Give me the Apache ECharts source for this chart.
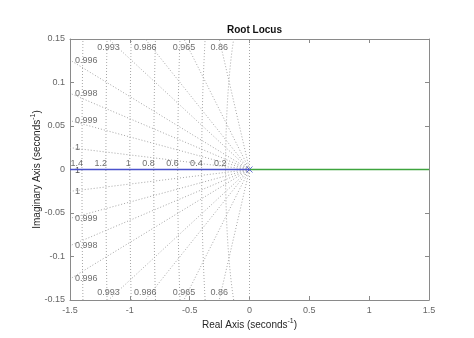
<!DOCTYPE html>
<html><head><meta charset="utf-8">
<script src="https://cdn.jsdelivr.net/npm/echarts@6/dist/echarts.min.js"></script>
<style>html,body{margin:0;padding:0;background:#fff}#c{width:474px;height:338px}</style>
</head><body><div id="c"></div>
<script>
// ---- data ----
const xTickValues = [-1.5, -1, -0.5, 0, 0.5, 1, 1.5];
const yTickValues = [-0.15, -0.1, -0.05, 0, 0.05, 0.1, 0.15];
const zetaValues = [0.86, 0.9645, 0.9855, 0.992, 0.9965, 0.9983, 0.9993, 0.99986];
const zetaLabels = ['0.86', '0.965', '0.986', '0.993', '0.996', '0.998', '0.999', '1'];
const wnValues = [0.2, 0.4, 0.6, 0.8, 1.0, 1.2, 1.4];
const wnLabels = ['0.2', '0.4', '0.6', '0.8', '1', '1.2', '1.4'];
const blueBranchRe = [0, -1.5];
const blueBranchIm = [0, 0];
const greenBranchRe = [0, 1.5];
const greenBranchIm = [0, 0];
const poleRe = [0];
const poleIm = [0];

// ---- build ----
const X_MIN = xTickValues[0], X_MAX = xTickValues[xTickValues.length - 1];
const Y_MIN = yTickValues[0], Y_MAX = yTickValues[yTickValues.length - 1];
const FONT = 'Liberation Sans, Arial, Helvetica, sans-serif';
const gridStyle = { color: '#a6a6a6', width: 1, type: [1, 2] };
const gridLabelColor = '#4a4a4a';
const series = [];
const labelData = [];

function gridLine(pts) {
  series.push({ type: 'line', data: pts, symbol: 'none', lineStyle: gridStyle,
    silent: true, z: 1, animation: false, clip: true });
}

// damping-ratio rays
zetaValues.forEach((z, i) => {
  const t = Math.sqrt(1 - z * z) / z;
  let ex, ey, side;
  if (-X_MIN * t <= Y_MAX) { ex = X_MIN; ey = -X_MIN * t; side = 'left'; }
  else { ey = Y_MAX; ex = -Y_MAX / t; side = 'top'; }
  [1, -1].forEach(s => {
    gridLine([[0, 0], [ex, s * ey]]);
    let lab;
    if (side === 'left') lab = { position: [5, 0], align: 'left' };
    else lab = { position: [0, s > 0 ? 9 : -7.5], align: 'center' };
    labelData.push({ value: [ex, s * ey], label: Object.assign({ show: true, formatter: zetaLabels[i],
      verticalAlign: 'middle', fontSize: 9, color: gridLabelColor, fontFamily: FONT }, lab) });
  });
});
// real-axis damping label (zeta = 1)
labelData.push({ value: [X_MIN, 0], label: { show: true, formatter: '1', position: [5, 1.5], align: 'left',
  verticalAlign: 'middle', fontSize: 9, color: '#222', fontFamily: FONT } });
// imaginary axis (zeta = 0)
gridLine([[0, Y_MIN], [0, Y_MAX]]);

// natural-frequency arcs
wnValues.forEach((w, i) => {
  const pts = [];
  const n = 30;
  for (let k = 0; k <= n; k++) {
    const y = Y_MIN + (Y_MAX - Y_MIN) * k / n;
    if (Math.abs(y) < w) pts.push([-Math.sqrt(w * w - y * y), y]);
  }
  gridLine(pts);
  labelData.push({ value: [-w, 0], label: { show: true, formatter: wnLabels[i], position: [1, -5.5],
    align: 'right', verticalAlign: 'middle', fontSize: 9, color: gridLabelColor, fontFamily: FONT } });
});

series.push({ type: 'scatter', data: labelData, symbolSize: 0, silent: true, z: 3, animation: false });

series.push({ type: 'line', data: blueBranchRe.map((r, i) => [r, blueBranchIm[i]]), symbol: 'none',
  lineStyle: { color: '#4a52cc', width: 1.5 }, z: 5, animation: false });
series.push({ type: 'line', data: greenBranchRe.map((r, i) => [r, greenBranchIm[i]]), symbol: 'none',
  lineStyle: { color: '#3ea43e', width: 1.5 }, z: 5, animation: false });
series.push({ type: 'scatter', data: poleRe.map((r, i) => [r, poleIm[i]]),
  symbol: 'path://M0,0L10,10M10,0L0,10', symbolSize: 6,
  itemStyle: { color: 'none', borderColor: '#4a52cc', borderWidth: 1 }, z: 6, animation: false });

const axisColor = '#8a8a8a';
const fmt = v => String(Math.round(v * 100) / 100);
function mkX(pos, main) {
  return { type: 'value', position: pos, min: X_MIN, max: X_MAX, interval: 0.5,
    axisLine: { show: true, onZero: false, lineStyle: { color: axisColor } },
    axisTick: { show: true, inside: true, length: 4, lineStyle: { color: axisColor } },
    axisLabel: { show: main, color: '#666', fontSize: 9, margin: 6, fontFamily: FONT, formatter: fmt },
    splitLine: { show: false },
    name: main ? '{a|Real Axis (seconds}{s|-1}{a|)}' : '', nameLocation: 'middle', nameGap: 18, nameMoveOverlap: false,
    nameTextStyle: { rich: { a: { fontSize: 10, color: '#262626', fontFamily: FONT, lineHeight: 14 },
      s: { fontSize: 7, color: '#262626', fontFamily: FONT, lineHeight: 9, verticalAlign: 'top' } } } };
}
function mkY(pos, main) {
  return { type: 'value', position: pos, min: Y_MIN, max: Y_MAX, interval: 0.05,
    axisLine: { show: true, onZero: false, lineStyle: { color: axisColor } },
    axisTick: { show: true, inside: true, length: 4, lineStyle: { color: axisColor } },
    axisLabel: { show: main, color: '#666', fontSize: 9, margin: 5, fontFamily: FONT, formatter: fmt },
    splitLine: { show: false },
    name: main ? '{a|Imaginary Axis (seconds}{s|-1}{a|)}' : '', nameLocation: 'middle', nameGap: 26, nameMoveOverlap: false,
    nameTextStyle: { rich: { a: { fontSize: 10, color: '#262626', fontFamily: FONT, lineHeight: 14 },
      s: { fontSize: 7, color: '#262626', fontFamily: FONT, lineHeight: 9, verticalAlign: 'top' } } } };
}

const chart = echarts.init(document.getElementById('c'), null, { renderer: 'canvas' });
chart.setOption({
  animation: false,
  backgroundColor: '#fff',
  title: { text: 'Root Locus', left: 249.5, textAlign: 'center', top: 20,
    textStyle: { fontSize: 10, fontWeight: 'bold', color: '#111', fontFamily: FONT } },
  grid: { left: 70, right: 45, top: 39, bottom: 38, containLabel: false },
  xAxis: [mkX('bottom', true), mkX('top', false)],
  yAxis: [mkY('left', true), mkY('right', false)],
  series: series
});
</script></body></html>
